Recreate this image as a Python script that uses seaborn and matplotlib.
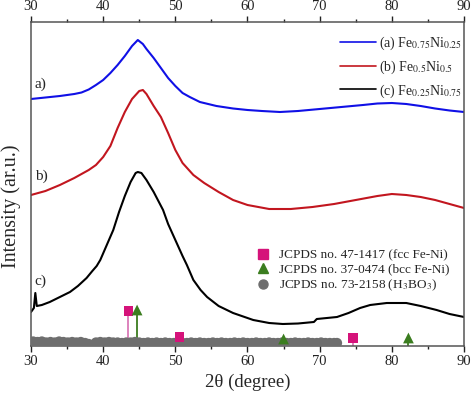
import matplotlib
matplotlib.use("Agg")
import matplotlib.pyplot as plt
import seaborn as sns
import pandas as pd
from matplotlib.lines import Line2D

# ---- data (intensity in arbitrary offset units) ----
a_x = [30, 32, 34, 36, 37, 38, 39, 40, 41, 42, 43, 44, 44.8, 45.5, 46, 47, 48, 49, 50, 51, 52,
       53.4, 55.7, 58, 60, 62, 64.5, 67, 70, 73, 76, 78, 80, 82, 84, 86, 88, 90]
a_y = [247, 248.5, 250, 252, 253.5, 256.5, 261, 266, 273, 281, 290, 300, 306, 302, 297, 288, 278,
       268, 260, 253, 249, 244, 240, 237.5, 236, 235, 234, 235, 237, 239, 241, 242.5, 243, 242,
       240, 237.5, 235.5, 234]

b_x = [30, 32, 34, 36, 38, 39, 40, 41, 42, 43, 44, 45, 45.5, 46, 47, 48, 49, 50, 51, 52.5, 54,
       56, 58, 60, 63, 66, 69, 72, 75, 78, 80, 82, 84, 86, 88, 90]
b_y = [151, 155, 161, 168, 176, 181, 189, 200, 218, 234, 247, 255, 256, 252, 240, 229, 213,
       196, 183, 171, 163, 154, 146, 141, 137, 137, 139, 142, 146, 150, 152, 151, 149, 146, 142, 138]

c_x = [30, 30.4, 30.6, 30.8, 31.5, 32.6, 34, 35.4, 36.5, 37.7, 38.5, 39.1, 39.6, 40.5, 41.4,
       42.2, 43, 43.8, 44.5, 44.8, 45.3, 46, 47, 48.3, 49, 50, 51, 51.6, 52.5, 53.5, 54.4, 56,
       58, 60.8, 63, 64.9, 67, 69.2, 69.6, 71, 72.4, 74, 75.6, 77, 79.3, 82, 84, 86.2, 88, 90]
c_y = [34, 38, 53, 40, 41, 44, 49, 54, 60, 68, 75, 80, 86, 101, 116, 134, 150, 164, 173, 174,
       173, 166, 154, 136, 122, 106, 90, 81, 66, 56, 49, 40, 33, 26, 23, 22, 22.5, 24, 27, 28,
       29, 33, 38, 41, 43, 43, 40, 36, 32, 29]

fcc_x = [43.5, 50.6, 74.6]
fcc_y = [35, 9, 8]
bcc_x = [44.7, 65.0, 82.3]
bcc_y = [36, 7, 8]
hbo_x = [30.3, 30.9, 31.5, 32.1, 32.7, 33.3, 33.9, 34.5, 35.1, 35.7, 36.3, 36.9, 37.5, 38.0,
         39.0, 39.6, 40.2, 40.8, 41.4, 42.0, 42.6, 43.2, 43.8, 44.4, 45.0, 45.6, 46.2, 46.8,
         47.4, 48.0, 48.6, 49.2, 49.8, 50.4, 51.0, 51.6, 52.2, 52.8, 53.4, 54.0, 54.6, 55.2,
         55.8, 56.4, 57.0, 57.6, 58.2, 58.8, 59.4, 60.0, 60.6, 61.2, 61.8, 62.4, 63.0, 63.6,
         64.2, 64.8, 65.4, 66.0, 66.6, 67.2, 67.8, 68.4, 69.0, 69.6, 70.2, 70.8, 71.4, 72.0, 72.4]
hbo_y = [4.5, 4, 4.5, 3.5, 4, 3.5, 4.5, 4, 3.5, 4, 3.5, 4, 3, 2,
         3.5, 4, 3.5, 4, 3.5, 3.5, 3, 3.5, 3.5, 4, 3.5, 3, 3.5, 3,
         3.5, 3, 3.5, 3, 3, 3.5, 3, 3, 3.5, 3, 3.5, 3, 3, 3.5,
         3, 3.5, 3, 3, 3.5, 3, 3.5, 3, 3, 3.5, 3, 3, 3.5, 3,
         3, 3.5, 3, 3, 3.5, 3, 3, 3.5, 3, 3, 3.5, 3, 3, 3, 3]

x_ticks = [30, 40, 50, 60, 70, 80, 90]
series_labels = [r"(a) Fe$_{0.75}$Ni$_{0.25}$", r"(b) Fe$_{0.5}$Ni$_{0.5}$",
                 r"(c) Fe$_{0.25}$Ni$_{0.75}$"]
ref_labels = ["JCPDS no. 47-1417 (fcc Fe-Ni)", "JCPDS no. 37-0474 (bcc Fe-Ni)",
              r"JCPDS no. 73-2158 (H$_3$BO$_3$)"]

# ---- style ----
sns.set_style("ticks")
plt.rcParams["font.family"] = ["Liberation Serif", "DejaVu Serif"]
plt.rcParams["mathtext.fontset"] = "stix"

col_a, col_b, col_c = "#1010e6", "#c2161f", "#000000"
pink, pink_line = "#d5137a", "#da7ab8"
green = "#3b7d1f"
gray = "#6e6e6e"

fig = plt.figure(figsize=(4.74, 3.97), dpi=100)
ax = fig.add_axes([31 / 474, 1 - 346 / 397, (464 - 31) / 474, (346 - 22) / 397])

for xs, ys, c in [(a_x, a_y, col_a), (b_x, b_y, col_b), (c_x, c_y, col_c)]:
    d = pd.DataFrame({"x": xs, "y": ys})
    sns.lineplot(data=d, x="x", y="y", ax=ax, color=c, lw=1.5, sort=False,
                 estimator=None, legend=False)

# reference sticks
ax.vlines(fcc_x, 0, fcc_y, color=pink_line, lw=1.3, zorder=2)
ax.vlines(bcc_x, 0, bcc_y, color=green, lw=1.3, zorder=2)
sns.scatterplot(x=hbo_x, y=hbo_y, ax=ax, color=gray, marker="o", s=55, edgecolor="none",
                zorder=3, legend=False, clip_on=True)
sns.scatterplot(x=fcc_x, y=fcc_y, ax=ax, color=pink, marker="s", s=48, edgecolor="none",
                zorder=4, legend=False)
sns.scatterplot(x=bcc_x, y=bcc_y, ax=ax, color=green, marker="^", s=60, edgecolor="none",
                zorder=4, legend=False)

ax.set_xlim(30, 90)
ax.set_ylim(0, 324)
ax.set_xticks(x_ticks)
ax.set_xticks(range(35, 90, 10), minor=True)
ax.set_yticks([])
ax.tick_params(axis="x", which="both", direction="out", top=True, labeltop=True,
               labelsize=10.5, colors="#222222", pad=2)
ax.tick_params(axis="x", which="major", length=4.5, width=1)
ax.tick_params(axis="x", which="minor", length=2.5, width=1)
for s in ax.spines.values():
    s.set_color("#555555")
    s.set_linewidth(1.1)

ax.set_xlabel("2θ (degree)", fontsize=13.5, labelpad=4)
ax.set_ylabel("Intensity (ar.u.)", fontsize=14.5)
ax.yaxis.set_label_coords(-0.022, 0.43)

ax.text(30.5, 262, "a)", fontsize=11, va="center", ha="left")
ax.text(30.5, 170, "b)", fontsize=11, va="center", ha="left")
ax.text(30.5, 65, "c)", fontsize=11, va="center", ha="left")

h1 = [Line2D([], [], color=c, lw=1.2) for c in (col_a, col_b, col_c)]
leg1 = ax.legend(h1, series_labels, loc="upper right",
                 bbox_to_anchor=(462 / 474, 1 - 35 / 397), bbox_transform=fig.transFigure,
                 frameon=False, fontsize=10, handlelength=2.6, handletextpad=0.2,
                 labelspacing=0.45, borderpad=0, borderaxespad=0)
ax.add_artist(leg1)

h2 = [Line2D([], [], ls="none", marker="s", color=pink, ms=6.5),
      Line2D([], [], ls="none", marker="^", color=green, ms=7.5),
      Line2D([], [], ls="none", marker="o", color=gray, ms=6.5)]
ax.legend(h2, ref_labels, loc="upper left",
          bbox_to_anchor=(256 / 474, 1 - 249 / 397), bbox_transform=fig.transFigure,
          frameon=False, fontsize=9.5, handlelength=1.0, handletextpad=0.75,
          labelspacing=0.15, borderpad=0, borderaxespad=0)

fig.savefig("out.png", dpi=100)
